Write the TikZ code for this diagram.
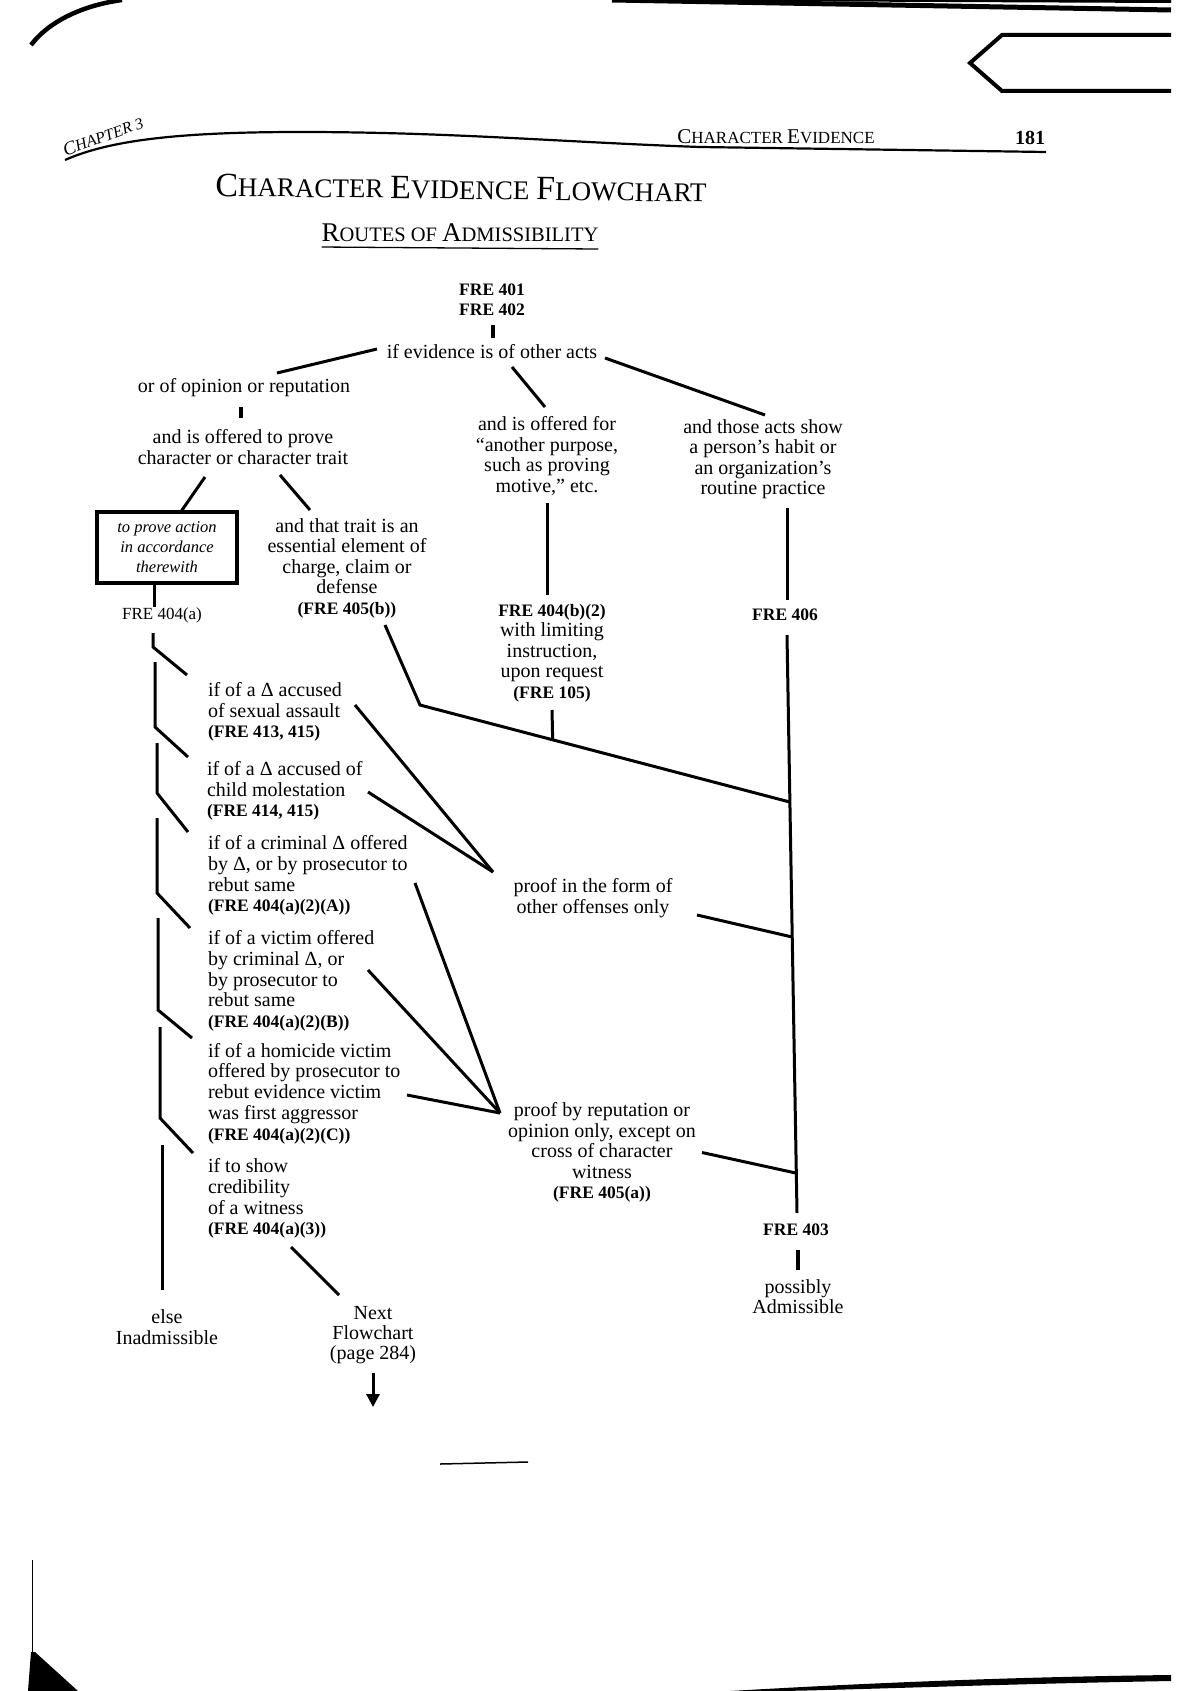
\documentclass[tikz,border=0pt]{standalone}
\usepackage{fontspec}
\setmainfont{Liberation Serif}
\usetikzlibrary{calc,arrows.meta}
\newcommand\frb[1]{{\fontsize{17.5}{20.5}\selectfont\bfseries #1}}
\newcommand\capup[2]{{\fontsize{#1}{#1}\selectfont #2}}
\begin{document}
\begin{tikzpicture}[x=1pt,y=-1pt,
  every node/.style={inner sep=0pt, outer sep=0pt},
  txt/.style={font=\fontsize{20}{20.5}\selectfont, align=center},
  ltxt/.style={font=\fontsize{20}{20.8}\selectfont, align=left, anchor=west},
  conn/.style={line width=3pt},
  tick/.style={line width=4pt},
  edge/.style={line width=4pt}
]
\useasboundingbox (0,0) rectangle (1200,1691);
\fill[white] (0,0) rectangle (1200,1691);

% page artefacts
\draw[edge, line width=4.5pt] (31,45) .. controls (50,20) and (85,5) .. (122,0);
\draw[edge, line width=5pt] (612,0) -- (1171,10);
\fill (720,0) -- (1171,0) -- (1171,3) -- (720,1) -- cycle;
\draw[edge, line join=miter] (1171,35) -- (1002,35) -- (970,63) -- (1002,91) -- (1171,91);
\draw[line width=0.8pt] (32,1560) -- (32,1660);
\fill (31,1652) -- (35,1652) -- (78,1691) -- (28,1691) -- cycle;
\fill (730,1691) .. controls (850,1684) and (1000,1677) .. (1171,1675) -- (1171,1681) .. controls (1000,1684) and (850,1690) .. (780,1691) -- cycle;
\draw[line width=1.5pt] (440,1464) -- (528,1462);

% header
\node[font=\fontsize{16}{18}\selectfont\itshape, rotate=20] (chap) at (103,136) {\capup{19}{C}HAPTER 3};
\draw[line width=2.2pt] (65,160) .. controls (110,140) and (180,132) .. (300,132) .. controls (450,132) and (560,142) .. (700,147) -- (1046,152);
\node[font=\fontsize{17}{20}\selectfont] (hdr) at (776,137) {\capup{21}{C}HARACTER \capup{21}{E}VIDENCE};
\node[font=\fontsize{20}{20}\selectfont\bfseries] (pg) at (1030,138) {181};
\node[font=\fontsize{27}{36}\selectfont, rotate=-0.7] (title) at (461,188) {\capup{34}{C}HARACTER \capup{34}{E}VIDENCE \capup{34}{F}LOWCHART};
\node[font=\fontsize{20.5}{24}\selectfont] (sub) at (460,233) {\capup{27}{R}OUTES OF \capup{27}{A}DMISSIBILITY};
\draw[line width=1.3pt] ($(sub.south west)+(0,5)$) -- ($(sub.south east)+(0,7)$);

% nodes
\node[txt] (n401) at (492,300) {\frb{FRE 401}\\\frb{FRE 402}};
\node[txt] (nOther) at (492,352) {if evidence is of other acts};
\node[txt] (nOpin) at (244,388) {or of opinion or reputation};
\node[txt] (nProve) at (243,447) {and is offered to prove\\character or character trait};
\node[txt] (nPurp) at (547,456) {and is offered for\\“another purpose,\\such as proving\\motive,” etc.};
\node[txt] (nHabit) at (763,459) {and those acts show\\a person’s habit or\\an organization’s\\routine practice};
\node[draw, line width=3.5pt, minimum width=140pt, minimum height=71pt, font=\fontsize{16.5}{20}\selectfont\itshape, align=center] (nBox) at (167,547.5) {to prove action\\in accordance\\therewith};
\node[txt] (nEss) at (347,568) {and that trait is an\\essential element of\\charge, claim or\\defense\\\frb{(FRE 405(b))}};
\node[txt, font=\fontsize{17}{20}\selectfont] (n404a) at (162,615) {FRE 404(a)};
\node[txt] (n404b) at (552,653) {\frb{FRE 404(b)(2)}\\with limiting\\instruction,\\upon request\\\frb{(FRE 105)}};
\node[txt] (n406) at (785,615) {\frb{FRE 406}};
\node[ltxt] (nSex) at (208,712) {if of a Δ accused\\of sexual assault\\\frb{(FRE 413, 415)}};
\node[ltxt] (nChild) at (207,791) {if of a Δ accused of\\child molestation\\\frb{(FRE 414, 415)}};
\node[ltxt] (nCrimA) at (208,875.5) {if of a criminal Δ offered\\by Δ, or by prosecutor to\\rebut same\\\frb{(FRE 404(a)(2)(A))}};
\node[ltxt] (nVictB) at (208,981) {if of a victim offered\\by criminal Δ, or\\by prosecutor to\\rebut same\\\frb{(FRE 404(a)(2)(B))}};
\node[ltxt] (nHomC) at (208,1093.5) {if of a homicide victim\\offered by prosecutor to\\rebut evidence victim\\was first aggressor\\\frb{(FRE 404(a)(2)(C))}};
\node[ltxt] (nCred) at (208,1198.5) {if to show\\credibility\\of a witness\\\frb{(FRE 404(a)(3))}};
\node[txt] (nOffOnly) at (593,898) {proof in the form of\\other offenses only};
\node[txt] (nRep) at (602,1152.5) {proof by reputation or\\opinion only, except on\\cross of character\\witness\\\frb{(FRE 405(a))}};
\node[txt] (n403) at (796,1230) {\frb{FRE 403}};
\node[txt] (nPoss) at (798,1296.5) {possibly\\Admissible};
\node[txt] (nElse) at (167,1327) {else\\Inadmissible};
\node[txt, font=\fontsize{20}{20}\selectfont] (nNext) at (373,1335) {Next\\Flowchart\\(page 284)};

% connectors top
\draw[tick, line width=4.5pt] ($(n401)+(1,25)$) -- ($(nOther)+(1,-14)$);
\draw[conn] ($(nOther)+(-115,-3)$) -- ($(nOpin)+(33,-15)$);
\draw[conn] ($(nOther)+(20,15)$) -- ($(nPurp)+(-2,-49)$);
\draw[conn] ($(nOther)+(113,6)$) -- ($(nHabit)+(2,-44)$);
\draw[tick] ($(nOpin)+(-3,19)$) -- ($(nProve)+(-2,-29)$);
\draw[conn] ($(nProve)+(-38,30)$) -- ($(nBox)+(13,-34.5)$);
\draw[conn] ($(nProve)+(37,28)$) -- ($(nEss)+(-37,-58)$);
\draw[conn] ($(nBox)+(-13,35.5)$) -- ($(n404a)+(-8,-8)$);
\draw[conn] ($(nPurp)+(0,47)$) -- ($(n404b)+(-5,-58)$);
\draw[conn] ($(nHabit)+(24,49)$) -- ($(n406)+(2,-15)$);

% right trunk
\coordinate (tTop) at ($(n406)+(2,20)$);
\coordinate (tBot) at ($(n403)+(1,-17)$);
\draw[conn] (tTop) -- (tBot);
\coordinate (j1) at ($(tTop)!0.289!(tBot)$);
\coordinate (j2) at ($(tTop)!0.5225!(tBot)$);
\coordinate (j3) at ($(tTop)!0.931!(tBot)$);
\coordinate (bend) at ($(nEss)+(73,137)$);
\draw[conn, line join=miter] ($(nEss)+(38,57)$) -- (bend) -- (j1);
\draw[conn] ($(n404b)+(0,57)$) -- ($(bend)!0.3587!(j1)$);
\draw[conn] ($(nOffOnly)+(104,17)$) -- (j2);
\draw[conn] ($(nRep)+(100,0)$) -- (j3);
\draw[tick] ($(n403)+(2,20)$) -- ($(nPoss)+(0,-26.5)$);

% converging
\coordinate (p1) at ($(nOffOnly)+(-100,-26)$);
\coordinate (p2) at ($(nRep)+(-102,-39.5)$);
\draw[conn] ($(nSex.west)+(147,-7)$) -- (p1);
\draw[conn] ($(nChild.west)+(161,1)$) -- (p1);
\draw[conn] ($(nCrimA.west)+(207,7.5)$) -- (p2);
\draw[conn] ($(nVictB.west)+(160,-11)$) -- (p2);
\draw[conn] ($(nHomC.west)+(199,1.5)$) -- (p2);
\draw[conn] ($(nCred.west)+(83,48.5)$) -- ($(nNext)+(-34,-40)$);
\draw[conn, -{Triangle[width=13pt,length=13pt]}] ($(nNext)+(0,38)$) -- ($(nNext)+(0,72)$);

% left chain
\draw[conn] ($(n404a)+(-9,18)$) -- ($(nSex.west)+(-55,-65)$) -- ($(nSex.west)+(-21,-37)$);
\draw[conn] ($(nSex.west)+(-53,-50)$) -- ($(nChild.west)+(-52,-64)$) -- ($(nChild.west)+(-19,-34)$);
\draw[conn] ($(nChild.west)+(-50,-48)$) -- ($(nCrimA.west)+(-51,-82.5)$) -- ($(nCrimA.west)+(-20,-43.5)$);
\draw[conn] ($(nCrimA.west)+(-51,-57.5)$) -- ($(nVictB.west)+(-51,-88)$) -- ($(nVictB.west)+(-18,-53)$);
\draw[conn] ($(nVictB.west)+(-50,-63)$) -- ($(nHomC.west)+(-50,-83.5)$) -- ($(nHomC.west)+(-16,-55.5)$);
\draw[conn] ($(nHomC.west)+(-48,-66.5)$) -- ($(nCred.west)+(-48,-80.5)$) -- ($(nCred.west)+(-15,-45.5)$);
\draw[conn] ($(nCred.west)+(-46,-53.5)$) -- ($(nElse)+(-5,-37)$);
\end{tikzpicture}
\end{document}
